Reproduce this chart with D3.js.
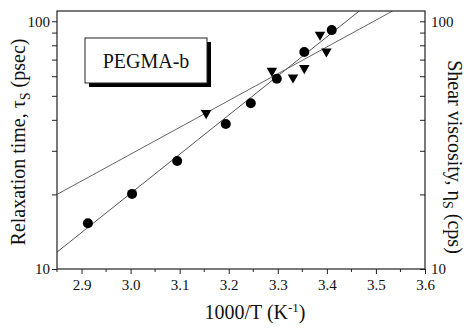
<!DOCTYPE html>
<html>
<head>
<meta charset="utf-8">
<script src="https://cdn.jsdelivr.net/npm/d3@7"></script>
<style>
  html, body { margin: 0; padding: 0; background: #fff; }
  svg { display: block; }
  text { font-family: "Liberation Serif", "Times New Roman", serif; fill: #111; }
</style>
</head>
<body>
<svg id="chart" width="474" height="328"></svg>
<script>
// ---- data ----
const xCircle = [2.913, 3.003, 3.095, 3.194, 3.245, 3.298, 3.354, 3.410];
const tauS    = [15.3, 20.1, 27.3, 38.5, 46.7, 58.6, 75.1, 92.1];
const xTri    = [3.154, 3.288, 3.331, 3.354, 3.386, 3.399];
const etaS    = [42.6, 63.1, 59.3, 64.7, 88.2, 75.5];
const tauFitX = [2.85, 3.466];
const tauFitY = [11.7, 110];
const etaFitX = [2.85, 3.534];
const etaFitY = [20.0, 110];
const xTicks  = [2.9, 3.0, 3.1, 3.2, 3.3, 3.4, 3.5, 3.6];
const xMinor  = [2.85, 2.95, 3.05, 3.15, 3.25, 3.35, 3.45, 3.55];
const yTicks  = [10, 20, 30, 40, 50, 60, 70, 80, 90, 100];
const yLabels = [10, 100];
const legendLabel = "PEGMA-b";

// ---- layout ----
const W = 474, H = 328;
const m = {left: 57, right: 49, top: 11, bottom: 59};
const svg = d3.select("#chart");
const x = d3.scaleLinear().domain([2.85, 3.6]).range([m.left, W - m.right]);
const y = d3.scaleLog().domain([10, 110]).range([H - m.bottom, m.top]);

// clip
svg.append("clipPath").attr("id", "clip").append("rect")
  .attr("x", m.left).attr("y", m.top)
  .attr("width", W - m.left - m.right).attr("height", H - m.top - m.bottom);

// fit lines
const line = d3.line().x(d => x(d[0])).y(d => y(d[1]));
const gLines = svg.append("g").attr("clip-path", "url(#clip)");
gLines.append("path").datum(d3.zip(tauFitX, tauFitY))
  .attr("d", line).attr("fill", "none").attr("stroke", "#555").attr("stroke-width", 1);
gLines.append("path").datum(d3.zip(etaFitX, etaFitY))
  .attr("d", line).attr("fill", "none").attr("stroke", "#666").attr("stroke-width", 1);

// frame
svg.append("rect").attr("x", m.left).attr("y", m.top)
  .attr("width", W - m.left - m.right).attr("height", H - m.top - m.bottom)
  .attr("fill", "none").attr("stroke", "#222").attr("stroke-width", 1.2);

// bottom axis
const gx = svg.append("g").attr("transform", `translate(0,${H - m.bottom})`)
  .call(d3.axisBottom(x).tickValues(xTicks).tickSize(5).tickSizeOuter(0).tickFormat(d3.format(".1f")));
gx.append("g").selectAll("line").data(xMinor).join("line")
  .attr("x1", d => x(d)).attr("x2", d => x(d)).attr("y1", 0).attr("y2", 3)
  .attr("stroke", "#222");
gx.select(".domain").remove();
gx.selectAll(".tick line").attr("stroke", "#222");
gx.selectAll(".tick text").attr("font-size", 15).attr("dy", "0.85em")
  .style("font-family", "Liberation Serif").attr("fill", "#111");

// left axis
const gy = svg.append("g").attr("transform", `translate(${m.left},0)`)
  .call(d3.axisLeft(y).tickValues(yTicks).tickSize(5).tickSizeOuter(0)
    .tickFormat(d => yLabels.includes(d) ? d : ""));
gy.select(".domain").remove();
gy.selectAll(".tick line").attr("stroke", "#222");
gy.selectAll(".tick text").attr("font-size", 15).attr("x", -7)
  .style("font-family", "Liberation Serif").attr("fill", "#111");

// right axis (ticks inward)
const gr = svg.append("g").attr("transform", `translate(${W - m.right},0)`)
  .call(d3.axisRight(y).tickValues(yTicks).tickSize(-5).tickSizeOuter(0)
    .tickFormat(d => yLabels.includes(d) ? d : ""));
gr.select(".domain").remove();
gr.selectAll(".tick line").attr("stroke", "#222");
gr.selectAll(".tick text").attr("font-size", 15).attr("x", 6)
  .style("font-family", "Liberation Serif").attr("fill", "#111");

// markers
svg.append("g").selectAll("circle").data(d3.zip(xCircle, tauS)).join("circle")
  .attr("cx", d => x(d[0])).attr("cy", d => y(d[1])).attr("r", 5)
  .attr("fill", "#000");
const tri = d3.symbol().type(d3.symbolTriangle).size(48);
svg.append("g").selectAll("path").data(d3.zip(xTri, etaS)).join("path")
  .attr("d", tri)
  .attr("transform", d => `translate(${x(d[0])},${y(d[1])}) rotate(180)`)
  .attr("fill", "#000");

// legend box with shadow
const lg = svg.append("g");
lg.append("rect").attr("x", 89).attr("y", 42).attr("width", 122).attr("height", 45).attr("fill", "#000");
lg.append("rect").attr("x", 85).attr("y", 38).attr("width", 122).attr("height", 45)
  .attr("fill", "#fff").attr("stroke", "#222").attr("stroke-width", 1);
lg.append("text").attr("x", 146).attr("y", 68).attr("text-anchor", "middle")
  .attr("font-size", 20).text(legendLabel);

// x title
const xt = svg.append("text").attr("x", 255).attr("y", 319).attr("text-anchor", "middle").attr("font-size", 20);
xt.append("tspan").text("1000/T (K");
xt.append("tspan").attr("font-size", 13).attr("dy", -7).text("-1");
xt.append("tspan").attr("dy", 7).text(")");

// left title
const lt = svg.append("text").attr("transform", "translate(25,142) rotate(-90)")
  .attr("text-anchor", "middle").attr("font-size", 20);
lt.append("tspan").text("Relaxation time, τ");
lt.append("tspan").attr("font-size", 14).attr("dy", 5).text("S");
lt.append("tspan").attr("dy", -5).text(" (psec)");

// right title
const rt = svg.append("text").attr("transform", "translate(448,157) rotate(90)")
  .attr("text-anchor", "middle").attr("font-size", 20);
rt.append("tspan").text("Shear viscosity, η");
rt.append("tspan").attr("font-size", 14).attr("dy", 5).text("S");
rt.append("tspan").attr("dy", -5).text(" (cps)");
</script>
</body>
</html>
